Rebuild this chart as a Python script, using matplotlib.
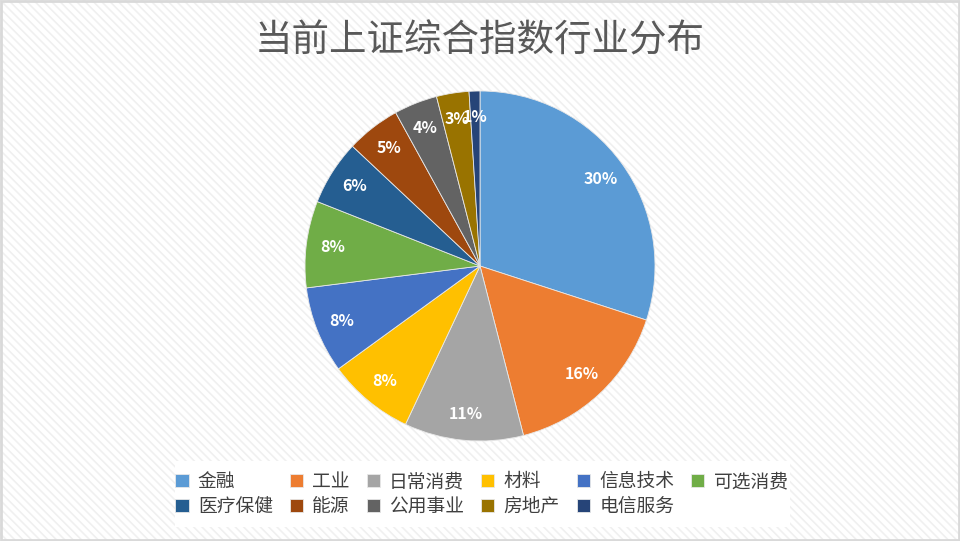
import matplotlib
matplotlib.use("Agg")
import matplotlib.pyplot as plt
from matplotlib.patches import Rectangle

plt.rcParams['font.family'] = ['Noto Sans CJK SC', 'DejaVu Sans']
plt.rcParams['hatch.linewidth'] = 1.2

sectors = ['金融', '工业', '日常消费', '材料', '信息技术', '可选消费',
           '医疗保健', '能源', '公用事业', '房地产', '电信服务']
shares = [30, 16, 11, 8, 8, 8, 6, 5, 4, 3, 1]
colors = ['#5B9BD5', '#ED7D31', '#A5A5A5', '#FFC000', '#4472C4', '#70AD47',
          '#255E91', '#9E480E', '#636363', '#997300', '#264478']

fig = plt.figure(figsize=(9.6, 5.41), dpi=100)
fig.patch.set_facecolor('white')

# faint diagonal hatch background + border
bg = Rectangle((0, 0), 1, 1, transform=fig.transFigure, facecolor='white',
               edgecolor='#F0F0F0', hatch='\\\\\\\\', linewidth=0, zorder=-10)
fig.patches.append(bg)
border = Rectangle((0.001, 0.001), 0.998, 0.997, transform=fig.transFigure,
                   fill=False, edgecolor='#D9D9D9', linewidth=2, zorder=-9)
fig.patches.append(border)

# legend white box
fig.patches.append(Rectangle((175 / 960, 14 / 541), 615 / 960, 66 / 541,
                             transform=fig.transFigure, facecolor='white',
                             edgecolor='none', zorder=-5))

ax = fig.add_axes([(480 - 175) / 960, (541 - 441) / 541, 350 / 960, 350 / 541])
wedges, texts, autotexts = ax.pie(
    shares, colors=colors, startangle=90, counterclock=False,
    autopct=lambda p: f'{p:.0f}%', pctdistance=0.85,
    wedgeprops=dict(edgecolor='#E8E8E8', linewidth=0.6),
    textprops=dict(color='white', fontsize=11.5, fontweight='bold'))
ax.set_aspect('equal')
ax.set_xlim(-1, 1)
ax.set_ylim(-1, 1)
ax.axis('off')

fig.text(0.5, 0.925, '当前上证综合指数行业分布', ha='center', va='center',
         fontsize=27, color='#595959', fontweight='medium')

order = [0, 6, 1, 7, 2, 8, 3, 9, 4, 10, 5]
leg = fig.legend([wedges[i] for i in order], [sectors[i] for i in order],
                 ncol=6, loc='center', bbox_to_anchor=(482 / 960, 47 / 541),
                 frameon=False, fontsize=13.5, handlelength=0.7,
                 handleheight=0.7, handletextpad=0.5, columnspacing=0.9,
                 labelspacing=0.2, labelcolor='#404040')

fig.savefig('out.png', dpi=100, facecolor=fig.get_facecolor())
